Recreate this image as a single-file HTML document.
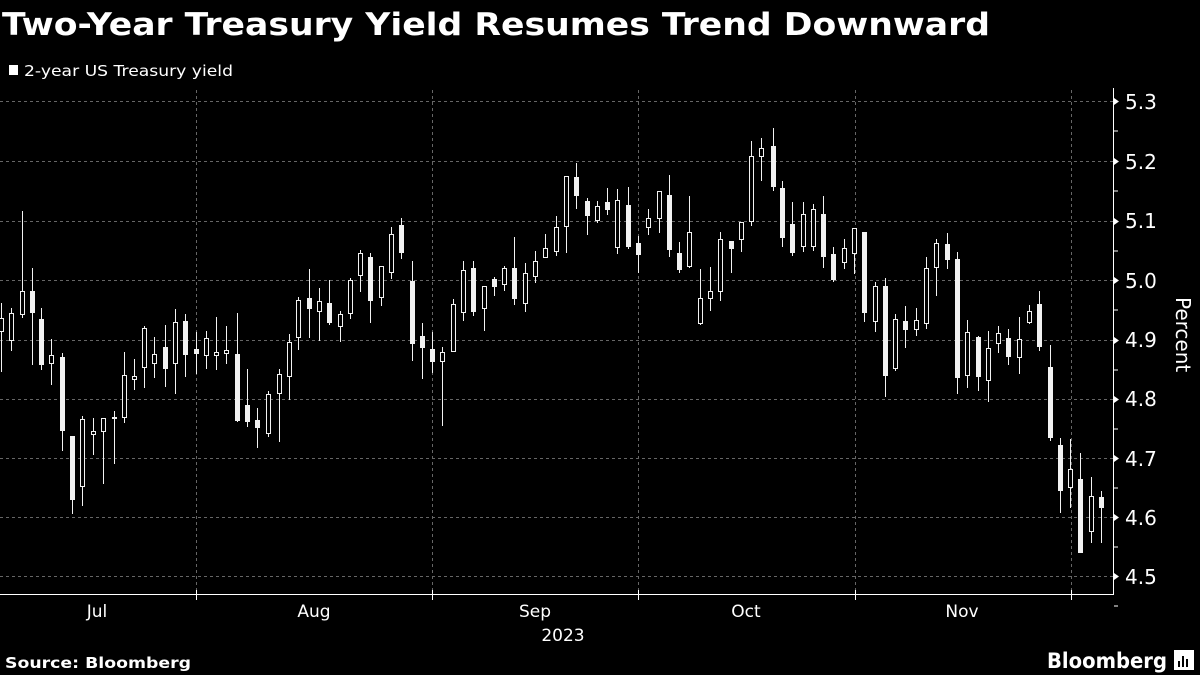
<!DOCTYPE html>
<html><head><meta charset="utf-8"><style>
html,body{margin:0;padding:0;background:#000;width:1200px;height:675px;overflow:hidden}
svg{display:block}
text{font-family:"DejaVu Sans","Liberation Sans",sans-serif;fill:#fff}
</style></head><body>
<svg id="s" width="1200" height="675" viewBox="0 0 1200 675">
<rect width="1200" height="675" fill="#000"/>
<text x="2" y="35" font-size="31" font-weight="bold" textLength="988" lengthAdjust="spacingAndGlyphs">Two-Year Treasury Yield Resumes Trend Downward</text>
<rect x="9" y="65" width="9" height="10" fill="#fff"/>
<text x="24" y="76" font-size="15" textLength="209" lengthAdjust="spacingAndGlyphs">2-year US Treasury yield</text>
<g id="grid" stroke="#666" stroke-width="1" stroke-dasharray="3,3"></g>
<line x1="1113.5" y1="88" x2="1113.5" y2="595" stroke="#fff"/>
<line x1="0" y1="594.5" x2="1114" y2="594.5" stroke="#fff"/>
<g id="c"></g>
<g font-size="20">
<text x="1125" y="109">5.3</text><text x="1125" y="169">5.2</text><text x="1125" y="228">5.1</text>
<text x="1125" y="288">5.0</text><text x="1125" y="347">4.9</text><text x="1125" y="406">4.8</text>
<text x="1125" y="466">4.7</text><text x="1125" y="525">4.6</text><text x="1125" y="584">4.5</text>
</g>
<text x="0" y="0" font-size="20" transform="translate(1176,297) rotate(90)">Percent</text>
<g font-size="17" text-anchor="middle">
<text x="97" y="617">Jul</text><text x="314" y="617">Aug</text><text x="535" y="617">Sep</text>
<text x="746" y="617">Oct</text><text x="962" y="617">Nov</text><text x="563" y="641">2023</text>
</g>
<text x="5" y="668" font-size="15" font-weight="bold" textLength="186" lengthAdjust="spacingAndGlyphs">Source: Bloomberg</text>
<text x="1167" y="668" font-size="21" font-weight="bold" text-anchor="end" textLength="120" lengthAdjust="spacingAndGlyphs">Bloomberg</text>
<rect x="1174" y="650" width="20" height="20" fill="#fff"/>
<rect x="1178" y="661" width="2" height="6" fill="#000"/><rect x="1182" y="656" width="2" height="11" fill="#000"/><rect x="1186" y="659" width="2" height="8" fill="#000"/>
</svg>
<script>
var ns="http://www.w3.org/2000/svg";
function el(p,t,a){var e=document.createElementNS(ns,t);for(var k in a)e.setAttribute(k,a[k]);p.appendChild(e);return e;}
var g=document.getElementById("grid");
var s=document.getElementById("s");
[101,161,221,280,340,399,458,517,576].forEach(function(y){el(g,"line",{x1:0,y1:y+.5,x2:1113,y2:y+.5});
el(s,"polygon",{points:"1114,"+(y-3)+" 1119,"+(y+.5)+" 1114,"+(y+4),fill:"#fff"});
el(s,"line",{x1:1114,y1:y+30,x2:1118,y2:y+30,stroke:"#fff"});});
[196,432,638,855,1071].forEach(function(x){el(g,"line",{x1:x+.5,y1:90,x2:x+.5,y2:594});el(s,"line",{x1:x+.5,y1:590,x2:x+.5,y2:600,stroke:"#fff"});});
var d=[
[0.5,303,372,318,332,0],[10.7,308,351,313,341,0],[21.7,211,318,291,315,0],[31.7,268,365,291,313,1],[41.3,308,370,319,365,1],
[51.3,339,385,355,364,0],[62.3,353,451,357,431,1],[72.3,436,514,436,500,1],[82.3,416,506,419,487,0],[93.3,418,455,431,435,0],
[103.3,418,484,418,432,0],[113.7,411,464,417,419,0],[123.7,352,423,375,418,0],[134.3,359,390,376,380,0],[144.3,326,388,328,368,0],
[154.3,337,378,354,364,0],[165.3,325,387,347,369,1],[175.3,309,394,322,364,0],[185.3,314,377,321,355,1],[196.3,332,374,349,354,1],
[206.3,331,369,338,356,0],[216.3,317,370,352,356,0],[226.3,326,364,350,354,0],[237.3,313,422,354,421,1],[247.3,369,427,405,422,1],
[257.3,408,448,420,428,1],[268.3,391,437,394,434,0],[278.7,369,442,374,394,0],[288.7,334,400,342,377,0],[298.3,297,350,300,338,0],
[309.3,269,338,298,309,1],[319.3,288,341,301,312,0],[329.3,280,325,303,323,1],[340.3,311,342,314,327,0],[350.3,278,319,280,314,0],
[360.3,250,292,253,276,0],[370.3,253,323,257,301,1],[381.3,266,306,266,298,0],[391.3,227,279,234,273,0],[401.3,218,259,225,253,1],
[412.3,261,361,281,344,1],[422.3,323,379,336,348,1],[432.3,332,373,349,362,1],[442.3,347,426,352,362,0],[453.3,299,352,304,352,0],
[463.3,261,321,270,313,0],[473.3,261,316,268,312,1],[484.3,286,331,286,309,0],[494.3,277,296,279,287,1],[504.3,266,291,268,285,0],
[514.3,237,305,268,299,1],[525.3,263,312,273,304,0],[535.3,251,283,261,277,0],[545.3,234,258,248,258,0],[556.3,216,256,227,252,0],
[566.3,176,253,176,227,0],[576.3,163,209,177,196,1],[587.3,198,235,201,216,1],[597.3,201,223,206,221,0],[607.3,188,215,202,210,1],
[617.3,189,254,200,248,0],[628.3,187,249,205,247,1],[638.3,236,273,243,255,1],[648.3,209,235,218,228,0],[659.3,191,233,191,219,0],
[669.3,175,257,195,250,1],[679.3,242,273,253,270,1],[689.3,196,268,232,267,0],[700.3,269,325,298,324,0],[710.3,267,311,291,299,0],
[720.3,232,301,239,292,0],[731,241,273,241,249,1],[741.3,222,252,222,240,0],[751.3,141,226,156,222,0],[761.3,138,181,148,157,0],
[772.7,128,191,146,187,1],[782.3,181,247,188,238,1],[792.3,202,256,224,253,1],[803.3,202,252,214,247,0],[813.3,204,251,209,247,0],
[823.3,196,268,214,257,1],[833.3,247,282,254,280,1],[844.3,239,269,248,263,0],[854.3,228,274,228,254,0],[864.3,232,322,232,313,1],
[875.3,282,332,286,322,0],[885.3,278,397,286,376,1],[895.3,314,371,319,369,0],[905.3,306,348,321,330,1],[916.3,308,336,320,330,0],
[926.3,257,329,268,324,0],[936.3,239,296,243,268,0],[947.3,233,269,244,260,1],[957.3,252,394,259,378,1],[967.3,320,388,332,376,0],
[978.3,336,391,337,377,1],[988.3,331,402,348,381,0],[998.3,326,353,333,344,0],[1008.3,329,365,338,357,1],[1019.3,317,374,339,358,0],
[1029.3,305,324,311,323,0],[1039.3,291,351,304,347,1],[1050.3,345,441,367,438,1],[1060.3,438,513,445,491,1],[1070.3,439,508,469,488,0],
[1080.3,453,553,479,553,1],[1091.3,477,543,496,532,0],[1101.3,491,543,497,508,1]];
var c=document.getElementById("c");
d.forEach(function(k){var x=Math.round(k[0]);
el(c,"rect",{x:x,y:k[1],width:1,height:k[2]-k[1],fill:"#f2f2f2"});
if(k[5]){el(c,"rect",{x:x-2,y:k[3],width:5,height:Math.max(2,k[4]-k[3]),fill:"#f2f2f2"});}
else{el(c,"rect",{x:x-1.5,y:k[3]+.5,width:4,height:Math.max(1,k[4]-k[3]-1),fill:"#000",stroke:"#f2f2f2","stroke-width":1});}
});
</script>
</body></html>
